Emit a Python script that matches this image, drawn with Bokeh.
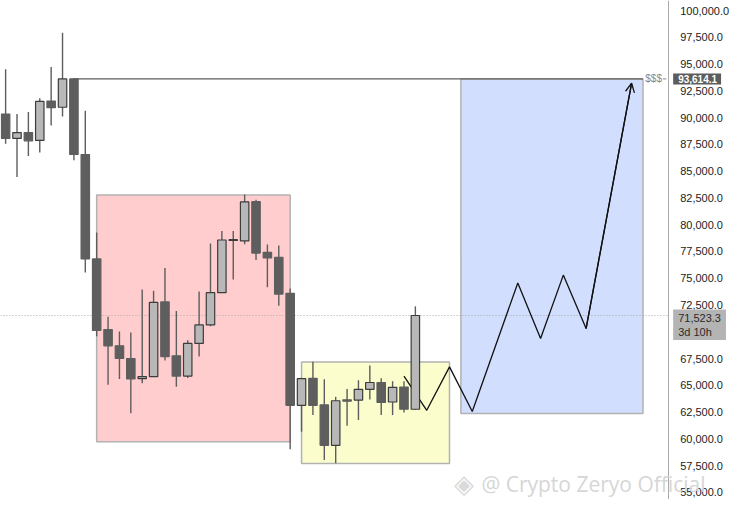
from bokeh.plotting import figure
from bokeh.models import (LinearAxis, FixedTicker, NumeralTickFormatter, Label,
                          Arrow, OpenHead, ColumnDataSource)
from bokeh.embed import file_html
from bokeh.resources import INLINE

# ---------------- data ----------------
candle_idx = list(range(37))
opens = [90331, 88053, 88600, 87871, 91543, 90969, 93614, 86558, 76807, 70219,
         68697, 67512, 65635, 65817, 72789, 67758, 65872, 68916, 70647, 73654,
         78530, 78484, 82157, 77418, 76962, 73591, 63138, 65662, 63174, 59402,
         63657, 63630, 64632, 65270, 63448, 64842, 62773]
closes = [88053, 88600, 87834, 91516, 90932, 93612, 86558, 76807, 70128, 68697,
          67512, 65598, 65817, 72743, 67694, 65872, 68916, 70647, 73654, 78575,
          78603, 82129, 77354, 76899, 73527, 63138, 65635, 63138, 59402, 63566,
          63521, 64632, 65270, 63411, 64815, 62773, 71523.3]
highs = [94523, 90331, 90513, 91817, 94733, 97922, 93700, 90632, 79268, 71403,
         70036, 69945, 73955, 73837, 75960, 71950, 69216, 73773, 78238, 79423,
         79423, 82822, 82339, 78147, 78056, 74046, 65700, 67211, 65571, 63931,
         64660, 65480, 66847, 65662, 65389, 65389, 72379]
lows = [87561, 84462, 86412, 86741, 89265, 90112, 86012, 75532, 69581, 65052,
        65598, 62409, 65207, 65780, 67330, 64869, 65690, 67694, 70519, 73654,
        74894, 78174, 76716, 74165, 72433, 59037, 60677, 62227, 58035, 57734,
        61224, 61771, 63685, 62227, 62227, 62473, 62719]

zone_left = [8, 26, 40]
zone_right = [25, 39, 56]
zone_top = [82767, 67184, 93614.1]
zone_bottom = [59739, 57707, 62382]
zone_colors = ["#ffcdcd", "#fbfdcc", "#d1defe"]

proj_x = [35, 37, 39, 41, 45, 47, 49, 51, 55]
proj_y = [65865, 62677, 66728, 62564, 74566, 69371, 75295, 70310, 93211]

target_price = 93614.1
target_start = 6
target_end = 56
last_price = 71523.3
time_left = "3d 10h"

y_ticks = [55000 + 2500 * k for k in range(19)]

# ---------------- figure ----------------
X0, XAXIS, X1 = -0.45, 58.21, 63.6
p = figure(width=729, height=499, x_range=(X0, X1), y_range=(54346, 100934),
           x_axis_type=None, y_axis_type=None, output_backend="svg",
           toolbar_location=None, min_border_left=0, min_border_top=0,
           min_border_bottom=0, min_border_right=0)
p.outline_line_color = None
p.background_fill_color = "white"

yaxis = LinearAxis(ticker=FixedTicker(ticks=y_ticks),
                   formatter=NumeralTickFormatter(format="0,0.0"),
                   fixed_location=XAXIS)
yaxis.major_tick_line_color = None
yaxis.minor_tick_line_color = None
yaxis.axis_line_color = "#aaaaaa"
yaxis.major_label_text_font = "Liberation Sans"
yaxis.major_label_text_font_size = "11px"
yaxis.major_label_text_color = "#222222"
yaxis.major_label_standoff = 6
p.add_layout(yaxis, "right")

# zones
p.quad(left=zone_left, right=zone_right, top=zone_top, bottom=zone_bottom,
       fill_color=zone_colors, line_color="#b2b2b2", line_width=1.5)

# last price dotted line
p.segment(x0=[X0], x1=[XAXIS], y0=[last_price], y1=[last_price],
          line_color="#aaaaaa", line_width=1, line_dash="1 2")

# target line
p.segment(x0=[target_start], x1=[target_end], y0=[target_price], y1=[target_price],
          line_color="#5d5d5d", line_width=1.3)
p.segment(x0=[57.75], x1=[58.05], y0=[target_price], y1=[target_price],
          line_color="#888888", line_width=1)

# projection path
p.line(proj_x, proj_y, line_color="#111111", line_width=1.3)
p.add_layout(Arrow(end=OpenHead(size=9, line_width=1.3, line_color="#111111"),
                   x_start=proj_x[-2], y_start=proj_y[-2],
                   x_end=proj_x[-1], y_end=proj_y[-1],
                   line_color="#111111", line_width=1.3))

# candles
up = [c >= o for o, c in zip(opens, closes)]
src = ColumnDataSource(dict(
    x=candle_idx, high=highs, low=lows,
    top=[max(o, c) for o, c in zip(opens, closes)],
    bottom=[min(o, c) for o, c in zip(opens, closes)],
    fill=["#b8b8b8" if u else "#5e5e5e" for u in up],
    line=["#3c3c3c" if u else "#5e5e5e" for u in up],
))
p.segment(x0="x", x1="x", y0="high", y1="low", source=src,
          line_color="#5d5d5d", line_width=1.4)
p.vbar(x="x", width=0.74, top="top", bottom="bottom", source=src,
       fill_color="fill", line_color="line", line_width=1.2)

# labels
p.add_layout(Label(x=56.2, y=target_price, text="$$$", text_baseline="middle",
                   text_font="Liberation Sans", text_font_size="10px",
                   text_color="#888888"))
p.add_layout(Label(x=XAXIS, y=target_price, text="{:,.1f}".format(target_price),
                   text_baseline="middle", text_align="left", x_offset=5,
                   text_font="Liberation Sans", text_font_style="bold",
                   text_font_size="10px", text_color="white",
                   background_fill_color="#5d5d5d",
                   padding=dict(left=5, right=4, top=2, bottom=1)))
p.add_layout(Label(x=XAXIS, y=last_price + 560,
                   text="{:,.1f}\n{}".format(last_price, time_left),
                   text_baseline="top", text_align="left", x_offset=5,
                   text_font="Liberation Sans", text_font_size="11px",
                   text_color="#2b2b2b", background_fill_color="#b4b4b4",
                   padding=dict(left=5, right=5, top=2, bottom=2)))

# watermark
p.add_layout(Label(x=39.4, y=55750, text="\u25c8", text_baseline="middle",
                   text_font="DejaVu Sans", text_font_size="26px",
                   text_color="#dadada"))
p.add_layout(Label(x=41.8, y=55750, text="@ Crypto Zeryo Official",
                   text_baseline="middle", text_font="Open Sans",
                   text_font_size="21px", text_color="#d6d6d6"))

open("out.html", "w").write(file_html(p, INLINE))
